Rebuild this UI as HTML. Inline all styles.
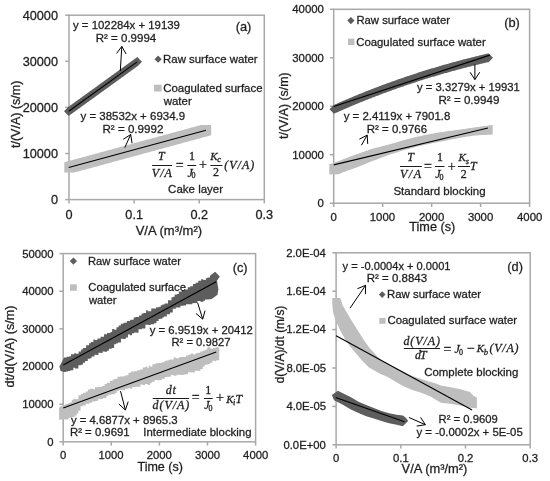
<!DOCTYPE html>
<html><head><meta charset="utf-8"><title>Filtration model fits</title>
<style>html,body{margin:0;padding:0;background:#fff;}svg{display:block;}</style>
</head><body>
<svg width="550" height="481" viewBox="0 0 550 481">
<defs><filter id="soft" filterUnits="userSpaceOnUse" x="0" y="0" width="550" height="481"><feGaussianBlur stdDeviation="0.5"/></filter></defs>
<rect width="550" height="481" fill="#fff"/>
<g filter="url(#soft)">
<rect x="69.0" y="15.2" width="195.30" height="184.40" fill="none" stroke="#a8a8a8" stroke-width="1.5"/>
<line x1="65.20" y1="199.60" x2="69.0" y2="199.60" stroke="#a8a8a8" stroke-width="1.5"/>
<line x1="65.20" y1="153.50" x2="69.0" y2="153.50" stroke="#a8a8a8" stroke-width="1.5"/>
<line x1="65.20" y1="107.40" x2="69.0" y2="107.40" stroke="#a8a8a8" stroke-width="1.5"/>
<line x1="65.20" y1="61.30" x2="69.0" y2="61.30" stroke="#a8a8a8" stroke-width="1.5"/>
<line x1="65.20" y1="15.20" x2="69.0" y2="15.20" stroke="#a8a8a8" stroke-width="1.5"/>
<line x1="69.00" y1="199.6" x2="69.00" y2="203.40" stroke="#a8a8a8" stroke-width="1.5"/>
<line x1="134.10" y1="199.6" x2="134.10" y2="203.40" stroke="#a8a8a8" stroke-width="1.5"/>
<line x1="199.20" y1="199.6" x2="199.20" y2="203.40" stroke="#a8a8a8" stroke-width="1.5"/>
<line x1="264.30" y1="199.6" x2="264.30" y2="203.40" stroke="#a8a8a8" stroke-width="1.5"/>
<rect x="333.7" y="9.3" width="195.90" height="193.90" fill="none" stroke="#a8a8a8" stroke-width="1.5"/>
<line x1="329.90" y1="203.20" x2="333.7" y2="203.20" stroke="#a8a8a8" stroke-width="1.5"/>
<line x1="329.90" y1="154.72" x2="333.7" y2="154.72" stroke="#a8a8a8" stroke-width="1.5"/>
<line x1="329.90" y1="106.25" x2="333.7" y2="106.25" stroke="#a8a8a8" stroke-width="1.5"/>
<line x1="329.90" y1="57.78" x2="333.7" y2="57.78" stroke="#a8a8a8" stroke-width="1.5"/>
<line x1="329.90" y1="9.30" x2="333.7" y2="9.30" stroke="#a8a8a8" stroke-width="1.5"/>
<line x1="333.70" y1="203.2" x2="333.70" y2="207.00" stroke="#a8a8a8" stroke-width="1.5"/>
<line x1="382.68" y1="203.2" x2="382.68" y2="207.00" stroke="#a8a8a8" stroke-width="1.5"/>
<line x1="431.65" y1="203.2" x2="431.65" y2="207.00" stroke="#a8a8a8" stroke-width="1.5"/>
<line x1="480.62" y1="203.2" x2="480.62" y2="207.00" stroke="#a8a8a8" stroke-width="1.5"/>
<line x1="529.60" y1="203.2" x2="529.60" y2="207.00" stroke="#a8a8a8" stroke-width="1.5"/>
<rect x="63.2" y="253.6" width="192.40" height="188.20" fill="none" stroke="#a8a8a8" stroke-width="1.5"/>
<line x1="59.40" y1="441.80" x2="63.2" y2="441.80" stroke="#a8a8a8" stroke-width="1.5"/>
<line x1="59.40" y1="404.16" x2="63.2" y2="404.16" stroke="#a8a8a8" stroke-width="1.5"/>
<line x1="59.40" y1="366.52" x2="63.2" y2="366.52" stroke="#a8a8a8" stroke-width="1.5"/>
<line x1="59.40" y1="328.88" x2="63.2" y2="328.88" stroke="#a8a8a8" stroke-width="1.5"/>
<line x1="59.40" y1="291.24" x2="63.2" y2="291.24" stroke="#a8a8a8" stroke-width="1.5"/>
<line x1="59.40" y1="253.60" x2="63.2" y2="253.60" stroke="#a8a8a8" stroke-width="1.5"/>
<line x1="63.20" y1="441.8" x2="63.20" y2="445.60" stroke="#a8a8a8" stroke-width="1.5"/>
<line x1="111.30" y1="441.8" x2="111.30" y2="445.60" stroke="#a8a8a8" stroke-width="1.5"/>
<line x1="159.40" y1="441.8" x2="159.40" y2="445.60" stroke="#a8a8a8" stroke-width="1.5"/>
<line x1="207.50" y1="441.8" x2="207.50" y2="445.60" stroke="#a8a8a8" stroke-width="1.5"/>
<line x1="255.60" y1="441.8" x2="255.60" y2="445.60" stroke="#a8a8a8" stroke-width="1.5"/>
<rect x="336.1" y="252.8" width="194.10" height="192.00" fill="none" stroke="#a8a8a8" stroke-width="1.5"/>
<line x1="332.30" y1="444.80" x2="336.1" y2="444.80" stroke="#a8a8a8" stroke-width="1.5"/>
<line x1="332.30" y1="406.40" x2="336.1" y2="406.40" stroke="#a8a8a8" stroke-width="1.5"/>
<line x1="332.30" y1="368.00" x2="336.1" y2="368.00" stroke="#a8a8a8" stroke-width="1.5"/>
<line x1="332.30" y1="329.60" x2="336.1" y2="329.60" stroke="#a8a8a8" stroke-width="1.5"/>
<line x1="332.30" y1="291.20" x2="336.1" y2="291.20" stroke="#a8a8a8" stroke-width="1.5"/>
<line x1="332.30" y1="252.80" x2="336.1" y2="252.80" stroke="#a8a8a8" stroke-width="1.5"/>
<line x1="336.10" y1="444.8" x2="336.10" y2="448.60" stroke="#a8a8a8" stroke-width="1.5"/>
<line x1="400.80" y1="444.8" x2="400.80" y2="448.60" stroke="#a8a8a8" stroke-width="1.5"/>
<line x1="465.50" y1="444.8" x2="465.50" y2="448.60" stroke="#a8a8a8" stroke-width="1.5"/>
<line x1="530.20" y1="444.8" x2="530.20" y2="448.60" stroke="#a8a8a8" stroke-width="1.5"/>
<line x1="152.1" y1="165.5" x2="172.2" y2="165.5" stroke="#1e1e1e" stroke-width="1.0"/>
<line x1="187.3" y1="165.5" x2="196.2" y2="165.5" stroke="#1e1e1e" stroke-width="1.0"/>
<line x1="210.4" y1="165.5" x2="222.4" y2="165.5" stroke="#1e1e1e" stroke-width="1.0"/>
<line x1="400.0" y1="166.5" x2="421.8" y2="166.5" stroke="#1e1e1e" stroke-width="1.0"/>
<line x1="435.0" y1="166.5" x2="444.5" y2="166.5" stroke="#1e1e1e" stroke-width="1.0"/>
<line x1="458.0" y1="166.5" x2="470.0" y2="166.5" stroke="#1e1e1e" stroke-width="1.0"/>
<line x1="152.7" y1="398.5" x2="189.1" y2="398.5" stroke="#1e1e1e" stroke-width="1.0"/>
<line x1="204.0" y1="398.5" x2="212.7" y2="398.5" stroke="#1e1e1e" stroke-width="1.0"/>
<line x1="403.8" y1="348.5" x2="440.1" y2="348.5" stroke="#1e1e1e" stroke-width="1.0"/>
<path d="M64.00 111.32L68.70 106.62L73.40 111.32L68.70 116.02ZM64.81 110.73L69.51 106.03L74.21 110.73L69.51 115.43ZM65.61 110.15L70.31 105.45L75.01 110.15L70.31 114.85ZM66.42 109.57L71.12 104.87L75.82 109.57L71.12 114.27ZM67.23 108.98L71.93 104.28L76.63 108.98L71.93 113.68ZM68.04 108.40L72.74 103.70L77.44 108.40L72.74 113.10ZM68.84 107.82L73.54 103.12L78.24 107.82L73.54 112.52ZM69.65 107.23L74.35 102.53L79.05 107.23L74.35 111.93ZM70.46 106.65L75.16 101.95L79.86 106.65L75.16 111.35ZM71.26 106.07L75.96 101.37L80.66 106.07L75.96 110.77ZM72.07 105.48L76.77 100.78L81.47 105.48L76.77 110.18ZM72.88 104.90L77.58 100.20L82.28 104.90L77.58 109.60ZM73.68 104.32L78.38 99.62L83.08 104.32L78.38 109.02ZM74.49 103.73L79.19 99.03L83.89 103.73L79.19 108.43ZM75.30 103.15L80.00 98.45L84.70 103.15L80.00 107.85ZM76.11 102.57L80.81 97.87L85.51 102.57L80.81 107.27ZM76.91 101.98L81.61 97.28L86.31 101.98L81.61 106.68ZM77.72 101.40L82.42 96.70L87.12 101.40L82.42 106.10ZM78.53 100.82L83.23 96.12L87.93 100.82L83.23 105.52ZM79.33 100.23L84.03 95.53L88.73 100.23L84.03 104.93ZM80.14 99.65L84.84 94.95L89.54 99.65L84.84 104.35ZM80.95 99.07L85.65 94.37L90.35 99.07L85.65 103.77ZM81.76 98.48L86.46 93.78L91.16 98.48L86.46 103.18ZM82.56 97.90L87.26 93.20L91.96 97.90L87.26 102.60ZM83.37 97.32L88.07 92.62L92.77 97.32L88.07 102.02ZM84.18 96.73L88.88 92.03L93.58 96.73L88.88 101.43ZM84.98 96.15L89.68 91.45L94.38 96.15L89.68 100.85ZM85.79 95.57L90.49 90.87L95.19 95.57L90.49 100.27ZM86.60 94.98L91.30 90.28L96.00 94.98L91.30 99.68ZM87.40 94.40L92.10 89.70L96.80 94.40L92.10 99.10ZM88.21 93.82L92.91 89.12L97.61 93.82L92.91 98.52ZM89.02 93.23L93.72 88.53L98.42 93.23L93.72 97.93ZM89.83 92.65L94.53 87.95L99.23 92.65L94.53 97.35ZM90.63 92.07L95.33 87.37L100.03 92.07L95.33 96.77ZM91.44 91.48L96.14 86.78L100.84 91.48L96.14 96.18ZM92.25 90.90L96.95 86.20L101.65 90.90L96.95 95.60ZM93.05 90.32L97.75 85.62L102.45 90.32L97.75 95.02ZM93.86 89.73L98.56 85.03L103.26 89.73L98.56 94.43ZM94.67 89.15L99.37 84.45L104.07 89.15L99.37 93.85ZM95.48 88.57L100.18 83.87L104.88 88.57L100.18 93.27ZM96.28 87.98L100.98 83.28L105.68 87.98L100.98 92.68ZM97.09 87.40L101.79 82.70L106.49 87.40L101.79 92.10ZM97.90 86.82L102.60 82.12L107.30 86.82L102.60 91.52ZM98.70 86.23L103.40 81.53L108.10 86.23L103.40 90.93ZM99.51 85.65L104.21 80.95L108.91 85.65L104.21 90.35ZM100.32 85.07L105.02 80.37L109.72 85.07L105.02 89.77ZM101.12 84.48L105.82 79.78L110.52 84.48L105.82 89.18ZM101.93 83.90L106.63 79.20L111.33 83.90L106.63 88.60ZM102.74 83.32L107.44 78.62L112.14 83.32L107.44 88.02ZM103.55 82.73L108.25 78.03L112.95 82.73L108.25 87.43ZM104.35 82.15L109.05 77.45L113.75 82.15L109.05 86.85ZM105.16 81.57L109.86 76.87L114.56 81.57L109.86 86.27ZM105.97 80.98L110.67 76.28L115.37 80.98L110.67 85.68ZM106.77 80.40L111.47 75.70L116.17 80.40L111.47 85.10ZM107.58 79.82L112.28 75.12L116.98 79.82L112.28 84.52ZM108.39 79.23L113.09 74.53L117.79 79.23L113.09 83.93ZM109.20 78.65L113.90 73.95L118.60 78.65L113.90 83.35ZM110.00 78.07L114.70 73.37L119.40 78.07L114.70 82.77ZM110.81 77.48L115.51 72.78L120.21 77.48L115.51 82.18ZM111.62 76.90L116.32 72.20L121.02 76.90L116.32 81.60ZM112.42 76.32L117.12 71.62L121.82 76.32L117.12 81.02ZM113.23 75.73L117.93 71.03L122.63 75.73L117.93 80.43ZM114.04 75.15L118.74 70.45L123.44 75.15L118.74 79.85ZM114.84 74.57L119.54 69.87L124.24 74.57L119.54 79.27ZM115.65 73.98L120.35 69.28L125.05 73.98L120.35 78.68ZM116.46 73.40L121.16 68.70L125.86 73.40L121.16 78.10ZM117.27 72.82L121.97 68.12L126.67 72.82L121.97 77.52ZM118.07 72.23L122.77 67.53L127.47 72.23L122.77 76.93ZM118.88 71.65L123.58 66.95L128.28 71.65L123.58 76.35ZM119.69 71.07L124.39 66.37L129.09 71.07L124.39 75.77ZM120.49 70.48L125.19 65.78L129.89 70.48L125.19 75.18ZM121.30 69.90L126.00 65.20L130.70 69.90L126.00 74.60ZM122.11 69.32L126.81 64.62L131.51 69.32L126.81 74.02ZM122.92 68.73L127.62 64.03L132.32 68.73L127.62 73.43ZM123.72 68.15L128.42 63.45L133.12 68.15L128.42 72.85ZM124.53 67.57L129.23 62.87L133.93 67.57L129.23 72.27ZM125.34 66.98L130.04 62.28L134.74 66.98L130.04 71.68ZM126.14 66.40L130.84 61.70L135.54 66.40L130.84 71.10ZM126.95 65.82L131.65 61.12L136.35 65.82L131.65 70.52ZM127.76 65.23L132.46 60.53L137.16 65.23L132.46 69.93ZM128.56 64.65L133.26 59.95L137.96 64.65L133.26 69.35ZM129.37 64.07L134.07 59.37L138.77 64.07L134.07 68.77ZM130.18 63.48L134.88 58.78L139.58 63.48L134.88 68.18ZM130.99 62.90L135.69 58.20L140.39 62.90L135.69 67.60ZM131.79 62.32L136.49 57.62L141.19 62.32L136.49 67.02ZM132.60 61.73L137.30 57.03L142.00 61.73L137.30 66.43Z" fill="#5d5d5d"/>
<path d="M64.30 162.13h10.40v10.40h-10.40ZM65.10 161.91h10.40v10.40h-10.40ZM65.91 161.69h10.40v10.40h-10.40ZM66.71 161.47h10.40v10.40h-10.40ZM67.51 161.26h10.40v10.40h-10.40ZM68.31 161.04h10.40v10.40h-10.40ZM69.12 160.82h10.40v10.40h-10.40ZM69.92 160.60h10.40v10.40h-10.40ZM70.72 160.38h10.40v10.40h-10.40ZM71.53 160.16h10.40v10.40h-10.40ZM72.33 159.94h10.40v10.40h-10.40ZM73.13 159.72h10.40v10.40h-10.40ZM73.94 159.51h10.40v10.40h-10.40ZM74.74 159.29h10.40v10.40h-10.40ZM75.54 159.07h10.40v10.40h-10.40ZM76.34 158.85h10.40v10.40h-10.40ZM77.15 158.63h10.40v10.40h-10.40ZM77.95 158.41h10.40v10.40h-10.40ZM78.75 158.19h10.40v10.40h-10.40ZM79.56 157.98h10.40v10.40h-10.40ZM80.36 157.76h10.40v10.40h-10.40ZM81.16 157.54h10.40v10.40h-10.40ZM81.96 157.32h10.40v10.40h-10.40ZM82.77 157.10h10.40v10.40h-10.40ZM83.57 156.88h10.40v10.40h-10.40ZM84.37 156.66h10.40v10.40h-10.40ZM85.18 156.45h10.40v10.40h-10.40ZM85.98 156.23h10.40v10.40h-10.40ZM86.78 156.01h10.40v10.40h-10.40ZM87.59 155.79h10.40v10.40h-10.40ZM88.39 155.57h10.40v10.40h-10.40ZM89.19 155.35h10.40v10.40h-10.40ZM89.99 155.13h10.40v10.40h-10.40ZM90.80 154.91h10.40v10.40h-10.40ZM91.60 154.70h10.40v10.40h-10.40ZM92.40 154.48h10.40v10.40h-10.40ZM93.21 154.26h10.40v10.40h-10.40ZM94.01 154.04h10.40v10.40h-10.40ZM94.81 153.82h10.40v10.40h-10.40ZM95.61 153.60h10.40v10.40h-10.40ZM96.42 153.38h10.40v10.40h-10.40ZM97.22 153.17h10.40v10.40h-10.40ZM98.02 152.95h10.40v10.40h-10.40ZM98.83 152.73h10.40v10.40h-10.40ZM99.63 152.51h10.40v10.40h-10.40ZM100.43 152.29h10.40v10.40h-10.40ZM101.24 152.07h10.40v10.40h-10.40ZM102.04 151.85h10.40v10.40h-10.40ZM102.84 151.64h10.40v10.40h-10.40ZM103.64 151.42h10.40v10.40h-10.40ZM104.45 151.20h10.40v10.40h-10.40ZM105.25 150.98h10.40v10.40h-10.40ZM106.05 150.76h10.40v10.40h-10.40ZM106.86 150.54h10.40v10.40h-10.40ZM107.66 150.32h10.40v10.40h-10.40ZM108.46 150.10h10.40v10.40h-10.40ZM109.26 149.89h10.40v10.40h-10.40ZM110.07 149.67h10.40v10.40h-10.40ZM110.87 149.45h10.40v10.40h-10.40ZM111.67 149.23h10.40v10.40h-10.40ZM112.48 149.01h10.40v10.40h-10.40ZM113.28 148.79h10.40v10.40h-10.40ZM114.08 148.57h10.40v10.40h-10.40ZM114.89 148.36h10.40v10.40h-10.40ZM115.69 148.14h10.40v10.40h-10.40ZM116.49 147.92h10.40v10.40h-10.40ZM117.29 147.70h10.40v10.40h-10.40ZM118.10 147.48h10.40v10.40h-10.40ZM118.90 147.26h10.40v10.40h-10.40ZM119.70 147.04h10.40v10.40h-10.40ZM120.51 146.83h10.40v10.40h-10.40ZM121.31 146.61h10.40v10.40h-10.40ZM122.11 146.39h10.40v10.40h-10.40ZM122.91 146.17h10.40v10.40h-10.40ZM123.72 145.95h10.40v10.40h-10.40ZM124.52 145.73h10.40v10.40h-10.40ZM125.32 145.51h10.40v10.40h-10.40ZM126.13 145.29h10.40v10.40h-10.40ZM126.93 145.08h10.40v10.40h-10.40ZM127.73 144.86h10.40v10.40h-10.40ZM128.54 144.64h10.40v10.40h-10.40ZM129.34 144.42h10.40v10.40h-10.40ZM130.14 144.20h10.40v10.40h-10.40ZM130.94 143.98h10.40v10.40h-10.40ZM131.75 143.76h10.40v10.40h-10.40ZM132.55 143.55h10.40v10.40h-10.40ZM133.35 143.33h10.40v10.40h-10.40ZM134.16 143.11h10.40v10.40h-10.40ZM134.96 142.89h10.40v10.40h-10.40ZM135.76 142.67h10.40v10.40h-10.40ZM136.56 142.45h10.40v10.40h-10.40ZM137.37 142.23h10.40v10.40h-10.40ZM138.17 142.02h10.40v10.40h-10.40ZM138.97 141.80h10.40v10.40h-10.40ZM139.78 141.58h10.40v10.40h-10.40ZM140.58 141.36h10.40v10.40h-10.40ZM141.38 141.14h10.40v10.40h-10.40ZM142.19 140.92h10.40v10.40h-10.40ZM142.99 140.70h10.40v10.40h-10.40ZM143.79 140.48h10.40v10.40h-10.40ZM144.59 140.27h10.40v10.40h-10.40ZM145.40 140.05h10.40v10.40h-10.40ZM146.20 139.83h10.40v10.40h-10.40ZM147.00 139.61h10.40v10.40h-10.40ZM147.81 139.39h10.40v10.40h-10.40ZM148.61 139.17h10.40v10.40h-10.40ZM149.41 138.95h10.40v10.40h-10.40ZM150.21 138.74h10.40v10.40h-10.40ZM151.02 138.52h10.40v10.40h-10.40ZM151.82 138.30h10.40v10.40h-10.40ZM152.62 138.08h10.40v10.40h-10.40ZM153.43 137.86h10.40v10.40h-10.40ZM154.23 137.64h10.40v10.40h-10.40ZM155.03 137.42h10.40v10.40h-10.40ZM155.84 137.21h10.40v10.40h-10.40ZM156.64 136.99h10.40v10.40h-10.40ZM157.44 136.77h10.40v10.40h-10.40ZM158.24 136.55h10.40v10.40h-10.40ZM159.05 136.33h10.40v10.40h-10.40ZM159.85 136.11h10.40v10.40h-10.40ZM160.65 135.89h10.40v10.40h-10.40ZM161.46 135.67h10.40v10.40h-10.40ZM162.26 135.46h10.40v10.40h-10.40ZM163.06 135.24h10.40v10.40h-10.40ZM163.86 135.02h10.40v10.40h-10.40ZM164.67 134.80h10.40v10.40h-10.40ZM165.47 134.58h10.40v10.40h-10.40ZM166.27 134.36h10.40v10.40h-10.40ZM167.08 134.14h10.40v10.40h-10.40ZM167.88 133.93h10.40v10.40h-10.40ZM168.68 133.71h10.40v10.40h-10.40ZM169.49 133.49h10.40v10.40h-10.40ZM170.29 133.27h10.40v10.40h-10.40ZM171.09 133.05h10.40v10.40h-10.40ZM171.89 132.83h10.40v10.40h-10.40ZM172.70 132.61h10.40v10.40h-10.40ZM173.50 132.40h10.40v10.40h-10.40ZM174.30 132.18h10.40v10.40h-10.40ZM175.11 131.96h10.40v10.40h-10.40ZM175.91 131.74h10.40v10.40h-10.40ZM176.71 131.52h10.40v10.40h-10.40ZM177.51 131.30h10.40v10.40h-10.40ZM178.32 131.08h10.40v10.40h-10.40ZM179.12 130.86h10.40v10.40h-10.40ZM179.92 130.65h10.40v10.40h-10.40ZM180.73 130.43h10.40v10.40h-10.40ZM181.53 130.21h10.40v10.40h-10.40ZM182.33 129.99h10.40v10.40h-10.40ZM183.14 129.77h10.40v10.40h-10.40ZM183.94 129.55h10.40v10.40h-10.40ZM184.74 129.33h10.40v10.40h-10.40ZM185.54 129.12h10.40v10.40h-10.40ZM186.35 128.90h10.40v10.40h-10.40ZM187.15 128.68h10.40v10.40h-10.40ZM187.95 128.46h10.40v10.40h-10.40ZM188.76 128.24h10.40v10.40h-10.40ZM189.56 128.02h10.40v10.40h-10.40ZM190.36 127.80h10.40v10.40h-10.40ZM191.16 127.59h10.40v10.40h-10.40ZM191.97 127.37h10.40v10.40h-10.40ZM192.77 127.15h10.40v10.40h-10.40ZM193.57 126.93h10.40v10.40h-10.40ZM194.38 126.71h10.40v10.40h-10.40ZM195.18 126.49h10.40v10.40h-10.40ZM195.98 126.27h10.40v10.40h-10.40ZM196.79 126.05h10.40v10.40h-10.40ZM197.59 125.84h10.40v10.40h-10.40ZM198.39 125.62h10.40v10.40h-10.40ZM199.19 125.40h10.40v10.40h-10.40ZM200.00 125.18h10.40v10.40h-10.40ZM200.80 124.96h10.40v10.40h-10.40Z" fill="#bebebe"/>
<line x1="68.70" y1="111.32" x2="137.16" y2="61.83" stroke="#000" stroke-width="1.1"/>
<line x1="68.70" y1="167.55" x2="205.95" y2="130.18" stroke="#000" stroke-width="1.1"/>
<path d="M329.50 109.34L334.00 104.84L338.50 109.34L334.00 113.84ZM330.30 108.98L334.80 104.48L339.30 108.98L334.80 113.48ZM331.10 108.62L335.60 104.12L340.10 108.62L335.60 113.12ZM331.90 108.27L336.40 103.77L340.90 108.27L336.40 112.77ZM332.70 107.91L337.20 103.41L341.70 107.91L337.20 112.41ZM333.50 107.56L338.00 103.06L342.50 107.56L338.00 112.06ZM334.30 107.20L338.80 102.70L343.30 107.20L338.80 111.70ZM335.10 106.85L339.60 102.35L344.10 106.85L339.60 111.35ZM335.90 106.50L340.40 102.00L344.90 106.50L340.40 111.00ZM336.70 106.15L341.20 101.65L345.70 106.15L341.20 110.65ZM337.51 105.80L342.01 101.30L346.51 105.80L342.01 110.30ZM338.31 105.45L342.81 100.95L347.31 105.45L342.81 109.95ZM339.11 105.10L343.61 100.60L348.11 105.10L343.61 109.60ZM339.91 104.76L344.41 100.26L348.91 104.76L344.41 109.26ZM340.71 104.41L345.21 99.91L349.71 104.41L345.21 108.91ZM341.51 104.07L346.01 99.57L350.51 104.07L346.01 108.57ZM342.31 103.72L346.81 99.22L351.31 103.72L346.81 108.22ZM343.11 103.38L347.61 98.88L352.11 103.38L347.61 107.88ZM343.91 103.04L348.41 98.54L352.91 103.04L348.41 107.54ZM344.71 102.70L349.21 98.20L353.71 102.70L349.21 107.20ZM345.51 102.36L350.01 97.86L354.51 102.36L350.01 106.86ZM346.31 102.02L350.81 97.52L355.31 102.02L350.81 106.52ZM347.11 101.69L351.61 97.19L356.11 101.69L351.61 106.19ZM347.91 101.35L352.41 96.85L356.91 101.35L352.41 105.85ZM348.71 101.02L353.21 96.52L357.71 101.02L353.21 105.52ZM349.51 100.68L354.01 96.18L358.51 100.68L354.01 105.18ZM350.31 100.35L354.81 95.85L359.31 100.35L354.81 104.85ZM351.11 100.02L355.61 95.52L360.11 100.02L355.61 104.52ZM351.91 99.69L356.41 95.19L360.91 99.69L356.41 104.19ZM352.72 99.36L357.22 94.86L361.72 99.36L357.22 103.86ZM353.52 99.03L358.02 94.53L362.52 99.03L358.02 103.53ZM354.32 98.70L358.82 94.20L363.32 98.70L358.82 103.20ZM355.12 98.37L359.62 93.87L364.12 98.37L359.62 102.87ZM355.92 98.05L360.42 93.55L364.92 98.05L360.42 102.55ZM356.72 97.72L361.22 93.22L365.72 97.72L361.22 102.22ZM357.52 97.40L362.02 92.90L366.52 97.40L362.02 101.90ZM358.32 97.08L362.82 92.58L367.32 97.08L362.82 101.58ZM359.12 96.75L363.62 92.25L368.12 96.75L363.62 101.25ZM359.92 96.43L364.42 91.93L368.92 96.43L364.42 100.93ZM360.72 96.11L365.22 91.61L369.72 96.11L365.22 100.61ZM361.52 95.79L366.02 91.29L370.52 95.79L366.02 100.29ZM362.32 95.48L366.82 90.98L371.32 95.48L366.82 99.98ZM363.12 95.16L367.62 90.66L372.12 95.16L367.62 99.66ZM363.92 94.84L368.42 90.34L372.92 94.84L368.42 99.34ZM364.72 94.53L369.22 90.03L373.72 94.53L369.22 99.03ZM365.52 94.21L370.02 89.71L374.52 94.21L370.02 98.71ZM366.32 93.90L370.82 89.40L375.32 93.90L370.82 98.40ZM367.12 93.59L371.62 89.09L376.12 93.59L371.62 98.09ZM367.92 93.28L372.42 88.78L376.92 93.28L372.42 97.78ZM368.73 92.97L373.23 88.47L377.73 92.97L373.23 97.47ZM369.53 92.66L374.03 88.16L378.53 92.66L374.03 97.16ZM370.33 92.35L374.83 87.85L379.33 92.35L374.83 96.85ZM371.13 92.04L375.63 87.54L380.13 92.04L375.63 96.54ZM371.93 91.74L376.43 87.24L380.93 91.74L376.43 96.24ZM372.73 91.43L377.23 86.93L381.73 91.43L377.23 95.93ZM373.53 91.13L378.03 86.63L382.53 91.13L378.03 95.63ZM374.33 90.82L378.83 86.32L383.33 90.82L378.83 95.32ZM375.13 90.52L379.63 86.02L384.13 90.52L379.63 95.02ZM375.93 90.22L380.43 85.72L384.93 90.22L380.43 94.72ZM376.73 89.92L381.23 85.42L385.73 89.92L381.23 94.42ZM377.53 89.62L382.03 85.12L386.53 89.62L382.03 94.12ZM378.33 89.32L382.83 84.82L387.33 89.32L382.83 93.82ZM379.13 89.02L383.63 84.52L388.13 89.02L383.63 93.52ZM379.93 88.73L384.43 84.23L388.93 88.73L384.43 93.23ZM380.73 88.43L385.23 83.93L389.73 88.43L385.23 92.93ZM381.53 88.14L386.03 83.64L390.53 88.14L386.03 92.64ZM382.33 87.84L386.83 83.34L391.33 87.84L386.83 92.34ZM383.13 87.55L387.63 83.05L392.13 87.55L387.63 92.05ZM383.94 87.26L388.44 82.76L392.94 87.26L388.44 91.76ZM384.74 86.97L389.24 82.47L393.74 86.97L389.24 91.47ZM385.54 86.68L390.04 82.18L394.54 86.68L390.04 91.18ZM386.34 86.39L390.84 81.89L395.34 86.39L390.84 90.89ZM387.14 86.10L391.64 81.60L396.14 86.10L391.64 90.60ZM387.94 85.81L392.44 81.31L396.94 85.81L392.44 90.31ZM388.74 85.53L393.24 81.03L397.74 85.53L393.24 90.03ZM389.54 85.24L394.04 80.74L398.54 85.24L394.04 89.74ZM390.34 84.96L394.84 80.46L399.34 84.96L394.84 89.46ZM391.14 84.67L395.64 80.17L400.14 84.67L395.64 89.17ZM391.94 84.39L396.44 79.89L400.94 84.39L396.44 88.89ZM392.74 84.11L397.24 79.61L401.74 84.11L397.24 88.61ZM393.54 83.83L398.04 79.33L402.54 83.83L398.04 88.33ZM394.34 83.55L398.84 79.05L403.34 83.55L398.84 88.05ZM395.14 83.27L399.64 78.77L404.14 83.27L399.64 87.77ZM395.94 82.99L400.44 78.49L404.94 82.99L400.44 87.49ZM396.74 82.72L401.24 78.22L405.74 82.72L401.24 87.22ZM397.54 82.44L402.04 77.94L406.54 82.44L402.04 86.94ZM398.34 82.17L402.84 77.67L407.34 82.17L402.84 86.67ZM399.15 81.89L403.65 77.39L408.15 81.89L403.65 86.39ZM399.95 81.62L404.45 77.12L408.95 81.62L404.45 86.12ZM400.75 81.35L405.25 76.85L409.75 81.35L405.25 85.85ZM401.55 81.07L406.05 76.57L410.55 81.07L406.05 85.57ZM402.35 80.80L406.85 76.30L411.35 80.80L406.85 85.30ZM403.15 80.53L407.65 76.03L412.15 80.53L407.65 85.03ZM403.95 80.27L408.45 75.77L412.95 80.27L408.45 84.77ZM404.75 80.00L409.25 75.50L413.75 80.00L409.25 84.50ZM405.55 79.73L410.05 75.23L414.55 79.73L410.05 84.23ZM406.35 79.47L410.85 74.97L415.35 79.47L410.85 83.97ZM407.15 79.20L411.65 74.70L416.15 79.20L411.65 83.70ZM407.95 78.94L412.45 74.44L416.95 78.94L412.45 83.44ZM408.75 78.67L413.25 74.17L417.75 78.67L413.25 83.17ZM409.55 78.41L414.05 73.91L418.55 78.41L414.05 82.91ZM410.35 78.15L414.85 73.65L419.35 78.15L414.85 82.65ZM411.15 77.89L415.65 73.39L420.15 77.89L415.65 82.39ZM411.95 77.63L416.45 73.13L420.95 77.63L416.45 82.13ZM412.75 77.37L417.25 72.87L421.75 77.37L417.25 81.87ZM413.55 77.11L418.05 72.61L422.55 77.11L418.05 81.61ZM414.35 76.86L418.85 72.36L423.35 76.86L418.85 81.36ZM415.16 76.60L419.66 72.10L424.16 76.60L419.66 81.10ZM415.96 76.34L420.46 71.84L424.96 76.34L420.46 80.84ZM416.76 76.09L421.26 71.59L425.76 76.09L421.26 80.59ZM417.56 75.84L422.06 71.34L426.56 75.84L422.06 80.34ZM418.36 75.58L422.86 71.08L427.36 75.58L422.86 80.08ZM419.16 75.33L423.66 70.83L428.16 75.33L423.66 79.83ZM419.96 75.08L424.46 70.58L428.96 75.08L424.46 79.58ZM420.76 74.83L425.26 70.33L429.76 74.83L425.26 79.33ZM421.56 74.58L426.06 70.08L430.56 74.58L426.06 79.08ZM422.36 74.33L426.86 69.83L431.36 74.33L426.86 78.83ZM423.16 74.09L427.66 69.59L432.16 74.09L427.66 78.59ZM423.96 73.84L428.46 69.34L432.96 73.84L428.46 78.34ZM424.76 73.59L429.26 69.09L433.76 73.59L429.26 78.09ZM425.56 73.35L430.06 68.85L434.56 73.35L430.06 77.85ZM426.36 73.11L430.86 68.61L435.36 73.11L430.86 77.61ZM427.16 72.86L431.66 68.36L436.16 72.86L431.66 77.36ZM427.96 72.62L432.46 68.12L436.96 72.62L432.46 77.12ZM428.76 72.38L433.26 67.88L437.76 72.38L433.26 76.88ZM429.56 72.14L434.06 67.64L438.56 72.14L434.06 76.64ZM430.37 71.90L434.87 67.40L439.37 71.90L434.87 76.40ZM431.17 71.66L435.67 67.16L440.17 71.66L435.67 76.16ZM431.97 71.42L436.47 66.92L440.97 71.42L436.47 75.92ZM432.77 71.19L437.27 66.69L441.77 71.19L437.27 75.69ZM433.57 70.95L438.07 66.45L442.57 70.95L438.07 75.45ZM434.37 70.71L438.87 66.21L443.37 70.71L438.87 75.21ZM435.17 70.48L439.67 65.98L444.17 70.48L439.67 74.98ZM435.97 70.25L440.47 65.75L444.97 70.25L440.47 74.75ZM436.77 70.01L441.27 65.51L445.77 70.01L441.27 74.51ZM437.57 69.78L442.07 65.28L446.57 69.78L442.07 74.28ZM438.37 69.55L442.87 65.05L447.37 69.55L442.87 74.05ZM439.17 69.32L443.67 64.82L448.17 69.32L443.67 73.82ZM439.97 69.09L444.47 64.59L448.97 69.09L444.47 73.59ZM440.77 68.86L445.27 64.36L449.77 68.86L445.27 73.36ZM441.57 68.63L446.07 64.13L450.57 68.63L446.07 73.13ZM442.37 68.41L446.87 63.91L451.37 68.41L446.87 72.91ZM443.17 68.18L447.67 63.68L452.17 68.18L447.67 72.68ZM443.97 67.96L448.47 63.46L452.97 67.96L448.47 72.46ZM444.77 67.73L449.27 63.23L453.77 67.73L449.27 72.23ZM445.58 67.51L450.08 63.01L454.58 67.51L450.08 72.01ZM446.38 67.29L450.88 62.79L455.38 67.29L450.88 71.79ZM447.18 67.06L451.68 62.56L456.18 67.06L451.68 71.56ZM447.98 66.84L452.48 62.34L456.98 66.84L452.48 71.34ZM448.78 66.62L453.28 62.12L457.78 66.62L453.28 71.12ZM449.58 66.40L454.08 61.90L458.58 66.40L454.08 70.90ZM450.38 66.18L454.88 61.68L459.38 66.18L454.88 70.68ZM451.18 65.97L455.68 61.47L460.18 65.97L455.68 70.47ZM451.98 65.75L456.48 61.25L460.98 65.75L456.48 70.25ZM452.78 65.53L457.28 61.03L461.78 65.53L457.28 70.03ZM453.58 65.32L458.08 60.82L462.58 65.32L458.08 69.82ZM454.38 65.10L458.88 60.60L463.38 65.10L458.88 69.60ZM455.18 64.89L459.68 60.39L464.18 64.89L459.68 69.39ZM455.98 64.68L460.48 60.18L464.98 64.68L460.48 69.18ZM456.78 64.46L461.28 59.96L465.78 64.46L461.28 68.96ZM457.58 64.25L462.08 59.75L466.58 64.25L462.08 68.75ZM458.38 64.04L462.88 59.54L467.38 64.04L462.88 68.54ZM459.18 63.83L463.68 59.33L468.18 63.83L463.68 68.33ZM459.98 63.62L464.48 59.12L468.98 63.62L464.48 68.12ZM460.78 63.42L465.28 58.92L469.78 63.42L465.28 67.92ZM461.59 63.21L466.09 58.71L470.59 63.21L466.09 67.71ZM462.39 63.00L466.89 58.50L471.39 63.00L466.89 67.50ZM463.19 62.80L467.69 58.30L472.19 62.80L467.69 67.30ZM463.99 62.59L468.49 58.09L472.99 62.59L468.49 67.09ZM464.79 62.39L469.29 57.89L473.79 62.39L469.29 66.89ZM465.59 62.18L470.09 57.68L474.59 62.18L470.09 66.68ZM466.39 61.98L470.89 57.48L475.39 61.98L470.89 66.48ZM467.19 61.78L471.69 57.28L476.19 61.78L471.69 66.28ZM467.99 61.58L472.49 57.08L476.99 61.58L472.49 66.08ZM468.79 61.38L473.29 56.88L477.79 61.38L473.29 65.88ZM469.59 61.18L474.09 56.68L478.59 61.18L474.09 65.68ZM470.39 60.98L474.89 56.48L479.39 60.98L474.89 65.48ZM471.19 60.78L475.69 56.28L480.19 60.78L475.69 65.28ZM471.99 60.58L476.49 56.08L480.99 60.58L476.49 65.08ZM472.79 60.39L477.29 55.89L481.79 60.39L477.29 64.89ZM473.59 60.19L478.09 55.69L482.59 60.19L478.09 64.69ZM474.39 60.00L478.89 55.50L483.39 60.00L478.89 64.50ZM475.19 59.80L479.69 55.30L484.19 59.80L479.69 64.30ZM475.99 59.61L480.49 55.11L484.99 59.61L480.49 64.11ZM476.80 59.42L481.30 54.92L485.80 59.42L481.30 63.92ZM477.60 59.23L482.10 54.73L486.60 59.23L482.10 63.73ZM478.40 59.04L482.90 54.54L487.40 59.04L482.90 63.54ZM479.20 58.85L483.70 54.35L488.20 58.85L483.70 63.35ZM480.00 58.66L484.50 54.16L489.00 58.66L484.50 63.16ZM480.80 58.47L485.30 53.97L489.80 58.47L485.30 62.97ZM481.60 58.28L486.10 53.78L490.60 58.28L486.10 62.78ZM482.40 58.09L486.90 53.59L491.40 58.09L486.90 62.59ZM483.20 57.91L487.70 53.41L492.20 57.91L487.70 62.41ZM484.00 57.72L488.50 53.22L493.00 57.72L488.50 62.22Z" fill="#5d5d5d"/>
<path d="M329.30 164.10L333.00 163.50L334.30 162.50L335.20 162.19L336.45 161.77L337.93 161.26L339.52 160.71L341.11 160.15L342.60 159.60L344.00 159.06L345.40 158.49L346.80 157.90L348.20 157.31L349.60 156.74L351.00 156.20L352.39 155.69L353.77 155.20L355.16 154.72L356.54 154.25L357.92 153.78L359.30 153.30L360.74 152.80L362.25 152.27L363.76 151.74L365.20 151.24L366.50 150.78L367.60 150.40L368.27 150.15L368.52 150.01L368.63 149.93L368.89 149.82L369.59 149.60L371.00 149.20L373.25 148.59L376.14 147.84L379.46 146.98L383.01 146.06L386.59 145.12L390.00 144.20L393.32 143.27L396.73 142.28L400.16 141.27L403.56 140.28L406.86 139.34L410.00 138.50L412.94 137.76L415.74 137.09L418.43 136.48L421.07 135.90L423.71 135.35L426.40 134.80L429.12 134.26L431.84 133.75L434.55 133.26L437.26 132.79L439.98 132.33L442.70 131.90L445.43 131.50L448.16 131.12L450.89 130.77L453.63 130.42L456.37 130.07L459.10 129.70L461.83 129.31L464.57 128.91L467.31 128.50L470.04 128.09L472.77 127.69L475.50 127.30L478.41 126.90L481.54 126.47L484.68 126.05L487.58 125.66L490.03 125.34L491.80 125.10L492.70 125.00L492.70 134.60L490.82 134.68L488.21 134.78L485.12 134.90L481.81 135.06L478.52 135.25L475.50 135.50L472.72 135.80L469.97 136.16L467.25 136.55L464.54 136.98L461.82 137.43L459.10 137.90L456.37 138.40L453.63 138.93L450.89 139.49L448.16 140.07L445.43 140.64L442.70 141.20L439.98 141.74L437.26 142.27L434.55 142.81L431.84 143.35L429.12 143.91L426.40 144.50L423.71 145.10L421.07 145.70L418.43 146.32L415.74 146.99L412.94 147.70L410.00 148.50L406.86 149.38L403.56 150.34L400.16 151.36L396.73 152.42L393.32 153.51L390.00 154.60L386.59 155.78L383.01 157.07L379.46 158.39L376.14 159.65L373.25 160.75L371.00 161.60L369.59 162.13L368.89 162.41L368.63 162.52L368.52 162.59L368.27 162.72L367.60 163.00L366.50 163.45L365.20 164.00L363.76 164.59L362.25 165.21L360.74 165.83L359.30 166.40L357.92 166.94L356.54 167.46L355.16 167.98L353.77 168.49L352.39 169.00L351.00 169.50L349.51 170.03L347.90 170.59L346.28 171.14L344.78 171.66L343.52 172.09L342.60 172.40L338.50 174.30L329.30 174.50Z" fill="#bebebe"/>
<line x1="333.70" y1="106.58" x2="489.93" y2="55.12" stroke="#000" stroke-width="1.1"/>
<line x1="333.70" y1="164.90" x2="487.97" y2="128.07" stroke="#000" stroke-width="1.1"/>
<path d="M59.50 366.50L64.10 357.57L66.69 357.57L66.69 356.84L69.40 356.84L69.40 356.35L71.03 356.35L71.03 354.21L74.20 354.21L74.20 353.23L76.17 353.23L76.17 353.63L78.61 353.63L78.61 351.56L81.06 351.56L81.06 349.39L82.87 349.39L82.87 348.07L86.10 348.07L86.10 345.21L89.08 345.21L89.08 343.17L90.71 343.17L90.71 342.07L93.39 342.07L93.39 339.44L94.96 339.44L94.96 340.02L97.40 340.02L97.40 338.46L100.66 338.46L100.66 336.83L104.00 336.83L104.00 334.36L107.10 334.36L107.10 332.89L110.47 332.89L110.47 332.03L112.17 332.03L112.17 329.08L114.10 329.08L114.10 329.73L116.48 329.73L116.48 327.27L118.58 327.27L118.58 325.53L120.85 325.53L120.85 323.78L123.52 323.78L123.52 322.73L126.83 322.73L126.83 320.96L130.19 320.96L130.19 319.63L133.67 319.63L133.67 317.46L135.49 317.46L135.49 317.01L138.92 317.01L138.92 315.40L141.56 315.40L141.56 313.61L143.48 313.61L143.48 312.92L146.13 312.92L146.13 310.32L147.76 310.32L147.76 311.26L151.24 311.26L151.24 308.50L154.34 308.50L154.34 308.46L156.14 308.46L156.14 307.31L159.18 307.31L159.18 306.83L160.77 306.83L160.77 305.23L162.36 305.23L162.36 304.51L164.52 304.51L164.52 303.57L167.98 303.57L167.98 300.32L171.48 300.32L171.48 297.21L173.13 297.21L173.13 296.65L174.69 296.65L174.69 294.51L177.01 294.51L177.01 294.00L178.82 294.00L178.82 291.49L182.06 291.49L182.06 290.10L185.47 290.10L185.47 289.43L187.73 289.43L187.73 287.17L190.27 287.17L190.27 286.25L192.96 286.25L192.96 283.99L195.70 283.99L195.70 282.67L198.22 282.67L198.22 280.70L201.16 280.70L201.16 279.19L203.26 279.19L203.26 280.02L205.80 280.02L205.80 278.15L207.32 278.15L207.32 277.45L209.98 277.45L209.98 275.85L210.00 275.85L215.10 271.80L219.80 276.50L217.00 280.70L218.40 289.20L217.50 294.80L211.80 299.00L208.10 299.43L205.00 299.43L205.00 300.64L203.48 300.64L203.48 301.82L200.37 301.82L200.37 301.03L197.29 301.03L197.29 303.06L194.15 303.06L194.15 303.32L192.26 303.32L192.26 304.21L189.19 304.21L189.19 304.28L185.97 304.28L185.97 305.56L183.79 305.56L183.79 305.72L180.41 305.72L180.41 307.57L177.86 307.57L177.86 307.55L175.76 307.55L175.76 308.82L172.77 308.82L172.77 312.41L170.11 312.41L170.11 314.29L166.82 314.29L166.82 316.46L163.93 316.46L163.93 317.52L162.34 317.52L162.34 318.66L160.27 318.66L160.27 319.11L158.63 319.11L158.63 321.02L156.45 321.02L156.45 323.31L153.91 323.31L153.91 324.13L150.74 324.13L150.74 324.95L148.80 324.95L148.80 324.75L145.40 324.75L145.40 328.60L141.92 328.60L141.92 329.22L138.53 329.22L138.53 332.84L136.72 332.84L136.72 332.58L134.40 332.58L134.40 333.35L132.07 333.35L132.07 335.26L130.03 335.26L130.03 334.51L127.94 334.51L127.94 337.39L125.75 337.39L125.75 339.04L122.97 339.04L122.97 338.77L120.91 338.77L120.91 342.41L117.74 342.41L117.74 343.42L115.85 343.42L115.85 344.24L114.11 344.24L114.11 347.96L111.71 347.96L111.71 348.85L108.91 348.85L108.91 350.85L107.07 350.85L107.07 351.78L104.69 351.78L104.69 351.44L102.53 351.44L102.53 353.04L100.82 353.04L100.82 352.78L98.45 352.78L98.45 355.07L96.47 355.07L96.47 354.67L94.53 354.67L94.53 356.50L91.56 356.50L91.56 358.16L90.01 358.16L90.01 358.81L87.75 358.81L87.75 361.10L85.06 361.10L85.06 362.77L82.93 362.77L82.93 364.72L80.79 364.72L80.79 365.33L78.38 365.33L78.38 368.38L74.96 368.38L74.96 367.77L73.33 367.77L73.33 370.37L70.36 370.37L70.36 370.98L68.15 370.98L68.15 371.61L65.72 371.61L65.72 372.12L64.10 372.12L60.50 371.00Z" fill="#5d5d5d"/>
<path d="M59.10 407.50L63.20 404.90L65.24 404.90L65.24 404.12L67.80 404.12L67.80 402.90L70.24 402.90L70.24 402.14L71.75 402.14L71.75 399.77L73.50 399.77L73.50 398.67L75.14 398.67L75.14 399.22L78.35 399.22L78.35 395.18L80.85 395.18L80.85 394.02L82.98 394.02L82.98 392.82L85.77 392.82L85.77 391.62L88.00 391.62L88.00 389.59L90.15 389.59L90.15 388.80L92.76 388.80L92.76 389.19L95.02 389.19L95.02 387.23L96.88 387.23L96.88 387.15L99.59 387.15L99.59 386.88L101.85 386.88L101.85 386.01L104.60 386.01L104.60 384.07L106.84 384.07L106.84 382.85L109.75 382.85L109.75 380.97L112.64 380.97L112.64 379.39L114.63 379.39L114.63 378.79L117.52 378.79L117.52 376.77L119.87 376.77L119.87 376.59L123.13 376.59L123.13 376.27L125.37 376.27L125.37 375.25L128.46 375.25L128.46 372.69L130.88 372.69L130.88 371.43L134.01 371.43L134.01 371.25L137.28 371.25L137.28 370.26L140.12 370.26L140.12 369.42L142.75 369.42L142.75 367.49L145.42 367.49L145.42 366.62L147.21 366.62L147.21 367.70L148.80 367.70L148.80 365.84L150.50 365.84L150.50 366.74L152.36 366.74L152.36 364.27L155.54 364.27L155.54 363.19L158.73 363.19L158.73 363.03L161.90 363.03L161.90 362.33L164.56 362.33L164.56 360.98L166.13 360.98L166.13 360.56L168.65 360.56L168.65 359.87L170.37 359.87L170.37 359.54L173.73 359.54L173.73 357.50L175.88 357.50L175.88 358.24L179.04 358.24L179.04 357.21L180.90 357.21L180.90 357.00L183.63 357.00L183.63 357.01L185.92 357.01L185.92 355.46L188.21 355.46L188.21 354.73L190.55 354.73L190.55 353.49L193.05 353.49L193.05 354.51L195.37 354.51L195.37 353.35L197.20 353.35L197.20 352.65L200.21 352.65L200.21 351.61L202.74 351.61L202.74 350.39L205.53 350.39L205.53 349.40L207.33 349.40L207.33 347.19L210.32 347.19L210.32 348.83L212.86 348.83L212.86 347.89L215.80 347.89L215.80 347.37L217.83 347.37L217.83 347.40L219.20 347.40L219.20 348.00L219.20 359.60L219.20 360.35L218.27 360.35L218.27 360.27L216.28 360.27L216.28 361.36L214.69 361.36L214.69 360.81L212.42 360.81L212.42 362.83L210.21 362.83L210.21 364.11L207.62 364.11L207.62 364.63L204.69 364.63L204.69 366.42L202.84 366.42L202.84 368.90L200.42 368.90L200.42 370.74L197.81 370.74L197.81 370.87L194.87 370.87L194.87 372.47L193.09 372.47L193.09 372.31L191.34 372.31L191.34 372.29L188.06 372.29L188.06 374.37L185.30 374.37L185.30 374.45L183.43 374.45L183.43 374.96L180.58 374.96L180.58 374.64L178.37 374.64L178.37 374.83L176.65 374.83L176.65 375.86L173.80 375.86L173.80 375.11L170.79 375.11L170.79 376.84L167.68 376.84L167.68 376.99L164.83 376.99L164.83 378.87L161.81 378.87L161.81 379.91L159.57 379.91L159.57 380.36L157.87 380.36L157.87 380.10L154.60 380.10L154.60 381.81L151.77 381.81L151.77 383.20L150.03 383.20L150.03 384.99L147.75 384.99L147.75 383.99L145.08 383.99L145.08 384.90L142.60 384.90L142.60 384.43L140.43 384.43L140.43 386.79L137.58 386.79L137.58 386.86L135.37 386.86L135.37 387.08L132.20 387.08L132.20 388.68L130.53 388.68L130.53 388.29L128.18 388.29L128.18 388.65L124.95 388.65L124.95 390.35L121.65 390.35L121.65 389.97L118.74 389.97L118.74 390.88L116.73 390.88L116.73 393.11L114.74 393.11L114.74 394.27L111.33 394.27L111.33 394.64L108.39 394.64L108.39 395.94L106.43 395.94L106.43 397.88L103.01 397.88L103.01 398.99L100.71 398.99L100.71 399.36L97.77 399.36L97.77 401.04L95.15 401.04L95.15 401.61L91.99 401.61L91.99 402.72L89.29 402.72L89.29 403.63L85.80 403.63L85.80 405.52L82.76 405.52L82.76 406.33L80.54 406.33L80.54 410.66L78.27 410.66L78.27 413.60L76.72 413.60L76.72 415.53L74.69 415.53L74.69 417.08L71.48 417.08L71.48 417.72L68.57 417.72L68.57 419.51L65.16 419.51L65.16 419.33L63.20 419.33L59.10 419.70Z" fill="#bebebe"/>
<line x1="63.20" y1="364.97" x2="216.16" y2="281.76" stroke="#000" stroke-width="1.1"/>
<line x1="63.20" y1="408.05" x2="216.16" y2="351.95" stroke="#000" stroke-width="1.1"/>
<path d="M332.30 298.00L340.30 298.00L342.50 305.00L346.50 312.00L351.30 320.00L357.50 330.00L363.80 340.00L369.50 348.00L376.00 355.00L381.00 360.00L387.70 364.00L395.90 368.00L404.10 372.00L412.30 376.00L420.50 378.80L428.60 381.50L434.40 383.00L440.90 385.50L451.80 387.50L459.50 389.00L464.90 390.50L470.00 392.00L473.60 396.00L476.90 397.50L476.90 408.30L468.20 407.70L462.70 406.10L451.80 403.90L440.90 402.80L435.50 399.50L430.00 396.30L420.50 392.40L412.30 389.90L404.10 386.50L395.90 382.00L387.70 377.00L379.50 373.40L368.70 367.30L363.00 361.50L357.30 355.00L350.50 347.00L345.50 340.00L340.50 331.00L335.50 320.00L333.20 313.00L332.30 305.00Z" fill="#bebebe"/>
<path d="M331.80 394.90L337.90 390.80L343.30 393.50L350.90 397.30L358.50 401.80L366.20 404.90L373.80 407.90L381.50 411.00L389.10 413.30L396.70 414.80L402.80 415.50L405.90 417.80L408.20 420.90L402.80 426.20L396.70 424.70L389.10 423.20L381.50 420.90L373.80 418.60L366.20 416.30L358.50 413.00L350.90 409.50L343.30 405.00L334.10 400.30Z" fill="#5d5d5d"/>
<line x1="336.10" y1="335.80" x2="472.10" y2="410.00" stroke="#000" stroke-width="1.1"/>
<line x1="335.60" y1="397.60" x2="404.40" y2="421.70" stroke="#000" stroke-width="1.1"/>
<path d="M154.50 59.20L158.10 55.60L161.70 59.20L158.10 62.80Z" fill="#5d5d5d"/>
<rect x="154.1" y="84.7" width="7.50" height="6.80" fill="#bebebe"/>
<path d="M347.30 20.60L350.90 17.00L354.50 20.60L350.90 24.20Z" fill="#5d5d5d"/>
<rect x="348.0" y="38.6" width="6.40" height="6.50" fill="#bebebe"/>
<path d="M69.80 261.10L73.40 257.50L77.00 261.10L73.40 264.70Z" fill="#5d5d5d"/>
<rect x="70.0" y="284.3" width="6.80" height="6.50" fill="#bebebe"/>
<path d="M378.90 294.60L382.20 291.30L385.50 294.60L382.20 297.90Z" fill="#5d5d5d"/>
<rect x="379.3" y="317.9" width="6.30" height="5.90" fill="#bebebe"/>
<line x1="120.30" y1="71.00" x2="121.80" y2="46.40" stroke="#000" stroke-width="1.0"/>
<path d="M126.13 54.06L121.80 46.40L116.57 53.47" fill="none" stroke="#000" stroke-width="1.0"/>
<line x1="124.80" y1="147.60" x2="130.70" y2="134.50" stroke="#000" stroke-width="1.0"/>
<path d="M132.04 143.20L130.70 134.50L123.30 139.26" fill="none" stroke="#000" stroke-width="1.0"/>
<line x1="474.90" y1="64.40" x2="474.90" y2="79.60" stroke="#000" stroke-width="1.0"/>
<path d="M470.11 72.22L474.90 79.60L479.69 72.22" fill="none" stroke="#000" stroke-width="1.0"/>
<line x1="361.40" y1="145.30" x2="367.20" y2="135.10" stroke="#000" stroke-width="1.0"/>
<path d="M367.72 143.88L367.20 135.10L359.39 139.15" fill="none" stroke="#000" stroke-width="1.0"/>
<line x1="197.60" y1="302.70" x2="202.70" y2="319.10" stroke="#000" stroke-width="1.0"/>
<path d="M195.93 313.48L202.70 319.10L205.09 310.63" fill="none" stroke="#000" stroke-width="1.0"/>
<line x1="120.50" y1="391.10" x2="125.40" y2="410.00" stroke="#000" stroke-width="1.0"/>
<path d="M118.91 404.06L125.40 410.00L128.19 401.65" fill="none" stroke="#000" stroke-width="1.0"/>
<line x1="350.00" y1="308.20" x2="365.60" y2="285.30" stroke="#000" stroke-width="1.0"/>
<path d="M365.41 294.10L365.60 285.30L357.48 288.70" fill="none" stroke="#000" stroke-width="1.0"/>
<line x1="409.00" y1="417.50" x2="425.40" y2="424.70" stroke="#000" stroke-width="1.0"/>
<path d="M416.72 426.12L425.40 424.70L420.57 417.34" fill="none" stroke="#000" stroke-width="1.0"/>
<g fill="#1e1e1e" stroke="#1e1e1e" stroke-width="0.28">
<text x="50.90" y="203.90" font-family="'Liberation Sans', Arial, sans-serif" font-size="12.70">0</text>
<text x="22.70" y="157.80" font-family="'Liberation Sans', Arial, sans-serif" font-size="12.70">10000</text>
<text x="22.70" y="111.70" font-family="'Liberation Sans', Arial, sans-serif" font-size="12.70">20000</text>
<text x="22.70" y="65.60" font-family="'Liberation Sans', Arial, sans-serif" font-size="12.70">30000</text>
<text x="22.70" y="19.50" font-family="'Liberation Sans', Arial, sans-serif" font-size="12.70">40000</text>
<text x="65.44" y="219.00" font-family="'Liberation Sans', Arial, sans-serif" font-size="12.70">0</text>
<text x="125.34" y="219.00" font-family="'Liberation Sans', Arial, sans-serif" font-size="12.70">0.1</text>
<text x="190.44" y="219.00" font-family="'Liberation Sans', Arial, sans-serif" font-size="12.70">0.2</text>
<text x="255.47" y="219.00" font-family="'Liberation Sans', Arial, sans-serif" font-size="12.70">0.3</text>
<text x="135.67" y="234.50" font-family="'Liberation Sans', Arial, sans-serif" font-size="13.00">V/A (m³/m²)</text>
<text transform="translate(19.90,148.03) rotate(-90)" font-family="'Liberation Sans', Arial, sans-serif" font-size="12.52">t/(V/A) (s/m)</text>
<text x="73.00" y="29.20" font-family="'Liberation Sans', Arial, sans-serif" font-size="11.39">y = 102284x + 19139</text>
<text x="95.78" y="41.70" font-family="'Liberation Sans', Arial, sans-serif" font-size="11.51">R² = 0.9994</text>
<text x="163.09" y="62.90" font-family="'Liberation Sans', Arial, sans-serif" font-size="11.42">Raw surface water</text>
<text x="163.13" y="91.60" font-family="'Liberation Sans', Arial, sans-serif" font-size="11.48">Coagulated surface</text>
<text x="163.70" y="104.80" font-family="'Liberation Sans', Arial, sans-serif" font-size="11.48">water</text>
<text x="80.50" y="119.80" font-family="'Liberation Sans', Arial, sans-serif" font-size="11.48">y = 38532x + 6934.9</text>
<text x="102.47" y="133.00" font-family="'Liberation Sans', Arial, sans-serif" font-size="11.60">R² = 0.9992</text>
<text x="235.74" y="31.40" font-family="'Liberation Sans', Arial, sans-serif" font-size="12.80">(a)</text>
<text x="168.12" y="193.40" font-family="'Liberation Sans', Arial, sans-serif" font-size="11.50">Cake layer</text>
<text x="317.57" y="207.10" font-family="'Liberation Sans', Arial, sans-serif" font-size="11.40">0</text>
<text x="292.26" y="158.62" font-family="'Liberation Sans', Arial, sans-serif" font-size="11.40">10000</text>
<text x="292.26" y="110.15" font-family="'Liberation Sans', Arial, sans-serif" font-size="11.40">20000</text>
<text x="292.26" y="61.68" font-family="'Liberation Sans', Arial, sans-serif" font-size="11.40">30000</text>
<text x="292.26" y="13.20" font-family="'Liberation Sans', Arial, sans-serif" font-size="11.40">40000</text>
<text x="330.51" y="220.60" font-family="'Liberation Sans', Arial, sans-serif" font-size="11.40">0</text>
<text x="369.74" y="220.60" font-family="'Liberation Sans', Arial, sans-serif" font-size="11.40">1000</text>
<text x="418.88" y="220.60" font-family="'Liberation Sans', Arial, sans-serif" font-size="11.40">2000</text>
<text x="467.91" y="220.60" font-family="'Liberation Sans', Arial, sans-serif" font-size="11.40">3000</text>
<text x="517.00" y="220.60" font-family="'Liberation Sans', Arial, sans-serif" font-size="11.40">4000</text>
<text x="409.25" y="230.60" font-family="'Liberation Sans', Arial, sans-serif" font-size="12.68">Time (s)</text>
<text transform="translate(287.70,138.92) rotate(-90)" font-family="'Liberation Sans', Arial, sans-serif" font-size="12.35">t/(V/A) (s/m)</text>
<text x="356.40" y="24.00" font-family="'Liberation Sans', Arial, sans-serif" font-size="11.31">Raw surface water</text>
<text x="356.23" y="45.60" font-family="'Liberation Sans', Arial, sans-serif" font-size="11.37">Coagulated surface water</text>
<text x="417.10" y="91.30" font-family="'Liberation Sans', Arial, sans-serif" font-size="11.27">y = 3.3279x + 19931</text>
<text x="438.47" y="103.60" font-family="'Liberation Sans', Arial, sans-serif" font-size="11.60">R² = 0.9949</text>
<text x="343.70" y="119.80" font-family="'Liberation Sans', Arial, sans-serif" font-size="11.45">y = 2.4119x + 7901.8</text>
<text x="366.78" y="132.90" font-family="'Liberation Sans', Arial, sans-serif" font-size="11.48">R² = 0.9766</text>
<text x="504.14" y="26.80" font-family="'Liberation Sans', Arial, sans-serif" font-size="12.80">(b)</text>
<text x="393.42" y="194.50" font-family="'Liberation Sans', Arial, sans-serif" font-size="11.52">Standard blocking</text>
<text x="47.22" y="445.70" font-family="'Liberation Sans', Arial, sans-serif" font-size="11.30">0</text>
<text x="22.14" y="408.06" font-family="'Liberation Sans', Arial, sans-serif" font-size="11.30">10000</text>
<text x="22.14" y="370.42" font-family="'Liberation Sans', Arial, sans-serif" font-size="11.30">20000</text>
<text x="22.14" y="332.78" font-family="'Liberation Sans', Arial, sans-serif" font-size="11.30">30000</text>
<text x="22.14" y="295.14" font-family="'Liberation Sans', Arial, sans-serif" font-size="11.30">40000</text>
<text x="22.14" y="257.50" font-family="'Liberation Sans', Arial, sans-serif" font-size="11.30">50000</text>
<text x="60.04" y="459.00" font-family="'Liberation Sans', Arial, sans-serif" font-size="11.30">0</text>
<text x="98.47" y="459.00" font-family="'Liberation Sans', Arial, sans-serif" font-size="11.30">1000</text>
<text x="146.74" y="459.00" font-family="'Liberation Sans', Arial, sans-serif" font-size="11.30">2000</text>
<text x="194.90" y="459.00" font-family="'Liberation Sans', Arial, sans-serif" font-size="11.30">3000</text>
<text x="243.11" y="459.00" font-family="'Liberation Sans', Arial, sans-serif" font-size="11.30">4000</text>
<text x="137.45" y="471.00" font-family="'Liberation Sans', Arial, sans-serif" font-size="12.54">Time (s)</text>
<text transform="translate(14.10,387.50) rotate(-90)" font-family="'Liberation Sans', Arial, sans-serif" font-size="12.61">dt/d(V/A) (s/m)</text>
<text x="88.00" y="264.50" font-family="'Liberation Sans', Arial, sans-serif" font-size="11.23">Raw surface water</text>
<text x="88.34" y="291.10" font-family="'Liberation Sans', Arial, sans-serif" font-size="11.26">Coagulated surface</text>
<text x="88.90" y="303.80" font-family="'Liberation Sans', Arial, sans-serif" font-size="11.26">water</text>
<text x="232.63" y="271.60" font-family="'Liberation Sans', Arial, sans-serif" font-size="12.80">(c)</text>
<text x="149.80" y="333.50" font-family="'Liberation Sans', Arial, sans-serif" font-size="11.31">y = 6.9519x + 20412</text>
<text x="171.40" y="345.70" font-family="'Liberation Sans', Arial, sans-serif" font-size="11.25">R² = 0.9827</text>
<text x="70.90" y="423.90" font-family="'Liberation Sans', Arial, sans-serif" font-size="11.36">y = 4.6877x + 8965.3</text>
<text x="69.99" y="436.00" font-family="'Liberation Sans', Arial, sans-serif" font-size="11.35">R² = 0.9691</text>
<text x="143.37" y="436.20" font-family="'Liberation Sans', Arial, sans-serif" font-size="11.39">Intermediate blocking</text>
<text x="283.46" y="448.50" font-family="'Liberation Sans', Arial, sans-serif" font-size="11.30">0.0E+00</text>
<text x="286.40" y="410.10" font-family="'Liberation Sans', Arial, sans-serif" font-size="11.30">4.0E-05</text>
<text x="286.40" y="371.70" font-family="'Liberation Sans', Arial, sans-serif" font-size="11.30">8.0E-05</text>
<text x="286.18" y="333.30" font-family="'Liberation Sans', Arial, sans-serif" font-size="11.30">1.2E-04</text>
<text x="286.18" y="294.90" font-family="'Liberation Sans', Arial, sans-serif" font-size="11.30">1.6E-04</text>
<text x="286.18" y="256.50" font-family="'Liberation Sans', Arial, sans-serif" font-size="11.30">2.0E-04</text>
<text x="332.94" y="462.00" font-family="'Liberation Sans', Arial, sans-serif" font-size="11.30">0</text>
<text x="393.00" y="462.00" font-family="'Liberation Sans', Arial, sans-serif" font-size="11.30">0.1</text>
<text x="457.70" y="462.00" font-family="'Liberation Sans', Arial, sans-serif" font-size="11.30">0.2</text>
<text x="522.35" y="462.00" font-family="'Liberation Sans', Arial, sans-serif" font-size="11.30">0.3</text>
<text x="401.57" y="472.50" font-family="'Liberation Sans', Arial, sans-serif" font-size="12.86">V/A (m³/m²)</text>
<text transform="translate(284.30,383.28) rotate(-90)" font-family="'Liberation Sans', Arial, sans-serif" font-size="11.95">d(V/A)/dt (m/s)</text>
<text x="387.09" y="298.10" font-family="'Liberation Sans', Arial, sans-serif" font-size="11.37">Raw surface water</text>
<text x="387.43" y="324.30" font-family="'Liberation Sans', Arial, sans-serif" font-size="11.38">Coagulated surface water</text>
<text x="507.34" y="271.20" font-family="'Liberation Sans', Arial, sans-serif" font-size="12.80">(d)</text>
<text x="342.60" y="270.00" font-family="'Liberation Sans', Arial, sans-serif" font-size="11.10">y = -0.0004x + 0.0001</text>
<text x="366.78" y="282.40" font-family="'Liberation Sans', Arial, sans-serif" font-size="11.48">R² = 0.8843</text>
<text x="424.23" y="375.90" font-family="'Liberation Sans', Arial, sans-serif" font-size="11.44">Complete blocking</text>
<text x="438.60" y="422.80" font-family="'Liberation Sans', Arial, sans-serif" font-size="11.27">R² = 0.9609</text>
<text x="416.50" y="435.90" font-family="'Liberation Sans', Arial, sans-serif" font-size="11.39">y = -0.0002x + 5E-05</text>
<text x="158.06" y="159.50" font-family="'Liberation Serif', 'Times New Roman', serif" font-style="italic" font-size="12.00">T</text>
<text x="151.80" y="176.60" font-family="'Liberation Serif', 'Times New Roman', serif" font-style="italic" font-size="12.00" letter-spacing="1.00">V/A</text>
<text x="175.81" y="169.70" font-family="'Liberation Serif', 'Times New Roman', serif" font-size="14.00">=</text>
<text x="188.92" y="159.50" font-family="'Liberation Serif', 'Times New Roman', serif" font-size="12.00">1</text>
<text x="187.48" y="176.60" font-family="'Liberation Serif', 'Times New Roman', serif" font-style="italic" font-size="12.00">J</text>
<text x="191.58" y="178.20" font-family="'Liberation Serif', 'Times New Roman', serif" font-size="8.00">0</text>
<text x="199.11" y="169.30" font-family="'Liberation Serif', 'Times New Roman', serif" font-size="14.00">+</text>
<text x="210.31" y="159.50" font-family="'Liberation Serif', 'Times New Roman', serif" font-style="italic" font-size="11.00">K</text>
<text x="217.15" y="161.80" font-family="'Liberation Serif', 'Times New Roman', serif" font-style="italic" font-size="8.50">c</text>
<text x="213.12" y="175.80" font-family="'Liberation Serif', 'Times New Roman', serif" font-size="12.00">2</text>
<text x="224.14" y="168.90" font-family="'Liberation Serif', 'Times New Roman', serif" font-style="italic" font-size="12.00" letter-spacing="1.04">(V/A)</text>
<text x="407.36" y="161.30" font-family="'Liberation Serif', 'Times New Roman', serif" font-style="italic" font-size="12.00">T</text>
<text x="399.90" y="178.20" font-family="'Liberation Serif', 'Times New Roman', serif" font-style="italic" font-size="12.00" letter-spacing="1.55">V/A</text>
<text x="423.91" y="170.90" font-family="'Liberation Serif', 'Times New Roman', serif" font-size="14.00">=</text>
<text x="436.92" y="161.30" font-family="'Liberation Serif', 'Times New Roman', serif" font-size="12.00">1</text>
<text x="435.28" y="178.00" font-family="'Liberation Serif', 'Times New Roman', serif" font-style="italic" font-size="12.00">J</text>
<text x="439.58" y="179.80" font-family="'Liberation Serif', 'Times New Roman', serif" font-size="8.00">0</text>
<text x="447.66" y="170.90" font-family="'Liberation Serif', 'Times New Roman', serif" font-size="14.00">+</text>
<text x="458.61" y="161.30" font-family="'Liberation Serif', 'Times New Roman', serif" font-style="italic" font-size="11.00">K</text>
<text x="465.72" y="163.60" font-family="'Liberation Serif', 'Times New Roman', serif" font-style="italic" font-size="8.50">s</text>
<text x="460.72" y="178.00" font-family="'Liberation Serif', 'Times New Roman', serif" font-size="12.00">2</text>
<text x="470.06" y="169.60" font-family="'Liberation Serif', 'Times New Roman', serif" font-style="italic" font-size="12.00">T</text>
<text x="165.64" y="394.20" font-family="'Liberation Serif', 'Times New Roman', serif" font-style="italic" font-size="12.00" letter-spacing="0.76">dt</text>
<text x="152.54" y="409.10" font-family="'Liberation Serif', 'Times New Roman', serif" font-style="italic" font-size="12.00" letter-spacing="0.96">d(V/A)</text>
<text x="191.86" y="402.20" font-family="'Liberation Serif', 'Times New Roman', serif" font-size="14.00">=</text>
<text x="205.32" y="394.20" font-family="'Liberation Serif', 'Times New Roman', serif" font-size="12.00">1</text>
<text x="204.18" y="409.10" font-family="'Liberation Serif', 'Times New Roman', serif" font-style="italic" font-size="12.00">J</text>
<text x="208.48" y="411.00" font-family="'Liberation Serif', 'Times New Roman', serif" font-size="8.00">0</text>
<text x="216.01" y="402.10" font-family="'Liberation Serif', 'Times New Roman', serif" font-size="14.00">+</text>
<text x="226.31" y="402.70" font-family="'Liberation Serif', 'Times New Roman', serif" font-style="italic" font-size="11.00">K</text>
<text x="233.09" y="404.80" font-family="'Liberation Serif', 'Times New Roman', serif" font-style="italic" font-size="8.50">i</text>
<text x="235.56" y="402.70" font-family="'Liberation Serif', 'Times New Roman', serif" font-style="italic" font-size="12.00">T</text>
<text x="403.44" y="345.20" font-family="'Liberation Serif', 'Times New Roman', serif" font-style="italic" font-size="12.00" letter-spacing="0.92">d(V/A)</text>
<text x="414.94" y="359.20" font-family="'Liberation Serif', 'Times New Roman', serif" font-style="italic" font-size="12.00" letter-spacing="-0.98">dT</text>
<text x="443.41" y="353.50" font-family="'Liberation Serif', 'Times New Roman', serif" font-size="14.00">=</text>
<text x="454.38" y="352.80" font-family="'Liberation Serif', 'Times New Roman', serif" font-style="italic" font-size="12.00">J</text>
<text x="459.08" y="354.60" font-family="'Liberation Serif', 'Times New Roman', serif" font-size="8.00">0</text>
<text x="466.96" y="353.00" font-family="'Liberation Serif', 'Times New Roman', serif" font-size="14.00">−</text>
<text x="476.71" y="352.40" font-family="'Liberation Serif', 'Times New Roman', serif" font-style="italic" font-size="11.00">K</text>
<text x="483.66" y="354.60" font-family="'Liberation Serif', 'Times New Roman', serif" font-style="italic" font-size="8.50">b</text>
<text x="489.44" y="352.40" font-family="'Liberation Serif', 'Times New Roman', serif" font-style="italic" font-size="12.00" letter-spacing="0.77">(V/A)</text>
</g></g>
</svg>
</body></html>
